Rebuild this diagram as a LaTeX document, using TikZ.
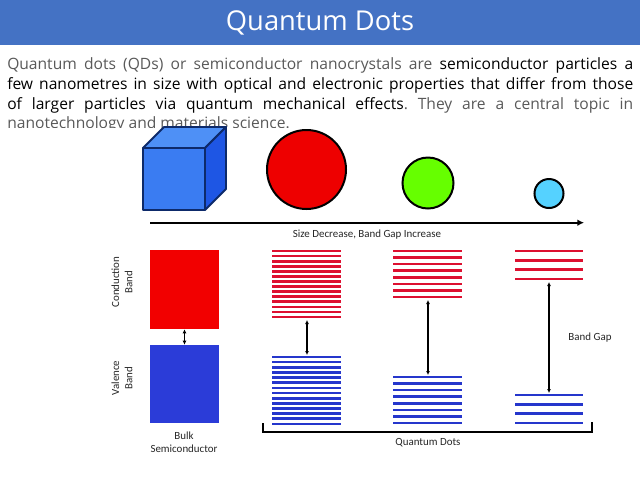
\documentclass[tikz,border=0pt]{standalone}
\usepackage{fontspec}
\setmainfont{Open Sans}
\newfontfamily\diagfont{Carlito}
\usetikzlibrary{arrows.meta}
\definecolor{titlebar}{HTML}{4472C4}
\definecolor{graytext}{HTML}{595959}
\definecolor{bulkred}{HTML}{F20000}
\definecolor{bulkblue}{HTML}{2B3CD8}
\definecolor{linered}{HTML}{DD1030}
\definecolor{lineblue}{HTML}{2536CC}
\definecolor{cubefront}{HTML}{3A7CF2}
\definecolor{cubetop}{HTML}{4E90F6}
\definecolor{cubeside}{HTML}{1E56E4}
\definecolor{cubeedge}{HTML}{0D2A6A}
\definecolor{dotred}{HTML}{EE0000}
\definecolor{dotgreen}{HTML}{66FF00}
\definecolor{dotcyan}{HTML}{55D2FF}
\tikzset{
  lbl/.style={font=\diagfont\fontsize{8.2}{9.8}\selectfont, text=black!85, align=center, inner sep=0pt},
  dot/.style={circle, draw=black, line width=1.5pt, inner sep=0pt},
  gaparrow/.style={{Latex[length=3pt,width=3pt]}-{Latex[length=3pt,width=3pt]}, line width=0.9pt},
  redline/.style={linered, line width=2pt},
  blueline/.style={lineblue, line width=2pt},
}
\begin{document}
\frenchspacing
\begin{tikzpicture}[x=0.75pt,y=-0.75pt]
\useasboundingbox (0,0) rectangle (640,480);
\fill[white] (0,0) rectangle (640,480);
\fill[titlebar] (0,0) rectangle (640,44.5);
\node[text=white, font=\fontsize{20.5}{24}\selectfont, inner sep=0pt] (title) at (320,23) {Quantum Dots};
\node[anchor=north west, inner sep=0pt, text width=469.5pt, align=justify, text=graytext,
      font=\fontsize{11.7}{14.8}\selectfont] (para) at (7,57.5)
 {Quantum dots (QDs) or semiconductor nanocrystals are \textcolor{black}{semiconductor particles a}\linebreak
  \textcolor{black}{few nanometres in size with optical and electronic properties that differ from those}\linebreak
  \textcolor{black}{of larger particles via quantum mechanical effects}. They are a central topic in\linebreak
  nanotechnology and materials science.};
% picture area covers the descenders
\fill[white] (0,127.5) rectangle (640,480);
% cube
\coordinate (cA) at (143,148);
\coordinate (cB) at (205,148);
\coordinate (cC) at (205,210);
\coordinate (cD) at (143,210);
\coordinate (cE) at (164,127);
\coordinate (cF) at (226,127);
\coordinate (cG) at (226,189);
\begin{scope}[draw=cubeedge, line width=1.4pt, line join=round]
\filldraw[fill=cubetop] (cA) -- (cE) -- (cF) -- (cB) -- cycle;
\filldraw[fill=cubeside] (cB) -- (cF) -- (cG) -- (cC) -- cycle;
\filldraw[fill=cubefront] (cA) -- (cB) -- (cC) -- (cD) -- cycle;
\end{scope}
% dots
\node[dot, fill=dotred, minimum size=79pt*0.75] (d1) at (306.5,169.5) {};
\node[dot, fill=dotgreen, minimum size=51pt*0.75] (d2) at (428,183) {};
\node[dot, fill=dotcyan, minimum size=29pt*0.75] (d3) at (549,193.5) {};
% size axis
\coordinate (ax0) at (150,222.7);
\coordinate (ax1) at (584,222.7);
\draw[line width=1.5pt, -{Latex[length=5pt,width=5pt]}] (ax0) -- (ax1);
\node[lbl] (axl) at (367,235) {Size Decrease, Band Gap Increase};
% bulk
\node[inner sep=0pt, minimum width=69pt*0.75, minimum height=79pt*0.75, fill=bulkred] (cb) at (184.5,289.5) {};
\node[inner sep=0pt, minimum width=69pt*0.75, minimum height=78pt*0.75, fill=bulkblue] (vb) at (184.5,384) {};
\draw[gaparrow] (cb.south) -- (vb.north);
\node[lbl, rotate=90] (cbl) at (122,282) {Conduction\\Band};
\node[lbl, rotate=90] (vbl) at (122,378) {Valence\\Band};
\node[lbl, align=center] (bulkl) at (184,442) {Bulk\\Semiconductor};
% QD 1
\foreach \i in {0,...,13} {\draw[redline] (272,251+\i*5.08) -- (341,251+\i*5.08);}
\foreach \i in {0,...,13} {\draw[blueline] (272,357+\i*5.15) -- (341,357+\i*5.15);}
\coordinate (q1t) at (307,320);
\coordinate (q1b) at (307,355);
\draw[gaparrow] (q1t) -- (q1b);
% QD 2
\foreach \i in {0,...,7} {\draw[redline] (393,251+\i*6.57) -- (462,251+\i*6.57);}
\foreach \i in {0,...,7} {\draw[blueline] (393,377+\i*6.57) -- (462,377+\i*6.57);}
\coordinate (q2t) at (428,300);
\coordinate (q2b) at (428,375);
\draw[gaparrow] (q2t) -- (q2b);
% QD 3
\foreach \i in {0,...,3} {\draw[redline] (515,251+\i*9.33) -- (583,251+\i*9.33);}
\foreach \i in {0,...,3} {\draw[blueline] (515,395+\i*9.33) -- (583,395+\i*9.33);}
\coordinate (q3t) at (549,282);
\coordinate (q3b) at (549,393);
\draw[gaparrow] (q3t) -- (q3b);
\node[lbl] (bgl) at (590,338) {Band Gap};
% bracket
\coordinate (br0) at (263,423);
\coordinate (br1) at (263,432);
\coordinate (br2) at (592,432);
\coordinate (br3) at (592,422);
\draw[line width=1.6pt] (br0) -- (br1) -- (br2) -- (br3);
\node[lbl] (qdl) at (428,443) {Quantum Dots};
\end{tikzpicture}
\end{document}
